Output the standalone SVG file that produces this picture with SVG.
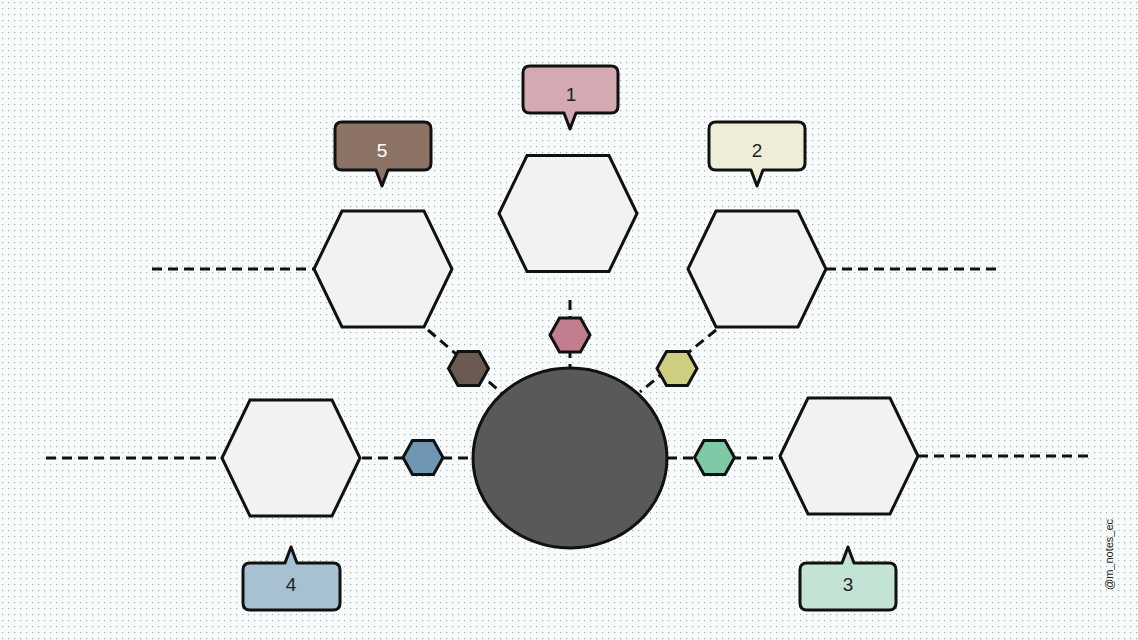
<svg xmlns="http://www.w3.org/2000/svg" width="1138" height="640" viewBox="0 0 1138 640">
<defs>
<pattern id="dots" width="6" height="6" patternUnits="userSpaceOnUse">
<rect width="6" height="6" fill="#f8fbfb"/>
<rect x="2" y="2" width="1.2" height="1.2" fill="#a9b0b0"/>
</pattern>
<path id="bighex" d="M-69,0 L-41,-58 L41,-58 L69,0 L41,58 L-41,58 Z"/>
<path id="smallhex" d="M-20,0 L-10.5,-17 L10.5,-17 L20,0 L10.5,17 L-10.5,17 Z"/>
</defs>
<style>
.conn{stroke:#111;stroke-width:3;stroke-dasharray:10 6;fill:none}
.big{fill:#f2f2f2;stroke:#111;stroke-width:3;stroke-linejoin:miter}
.small{stroke:#111;stroke-width:3}
.call{stroke:#111;stroke-width:3;stroke-linejoin:round}
.lbl{font-family:"Liberation Sans",Arial,sans-serif;font-size:19px;text-anchor:middle;fill:#222}
</style>
<rect width="1138" height="640" fill="url(#dots)"/>

<g id="connectors">
<line class="conn" x1="152" y1="269" x2="314" y2="269"/>
<line class="conn" x1="826" y1="269" x2="996" y2="269"/>
<line class="conn" x1="46" y1="458" x2="222" y2="458"/>
<line class="conn" x1="918" y1="456" x2="1092" y2="456"/>
<line class="conn" x1="362" y1="458" x2="474" y2="458"/>
<line class="conn" x1="667" y1="458" x2="780" y2="458"/>
<line class="conn" x1="570" y1="300" x2="570" y2="368" stroke-dasharray="10 8"/>
<line class="conn" x1="428" y1="330" x2="503" y2="394"/>
<line class="conn" x1="716" y1="330" x2="640" y2="392"/>
</g>

<g id="hub">
<ellipse cx="570" cy="458" rx="97" ry="90" fill="#595959" stroke="#111" stroke-width="3"/>
</g>

<g id="node1">
<use href="#bighex" class="big" x="568" y="213.5"/>
<path class="call" fill="#d4a9b2" d="M530,66 H611 Q618,66 618,73 V106 Q618,113 611,113 H576 L570,129 L564,113 H530 Q523,113 523,106 V73 Q523,66 530,66 Z"/>
<text class="lbl" x="571" y="101">1</text>
</g>

<g id="node2">
<use href="#bighex" class="big" x="757" y="269"/>
<path class="call" fill="#eeeed8" d="M716,122 H798 Q805,122 805,129 V163 Q805,170 798,170 H763 L757,186 L751,170 H716 Q709,170 709,163 V129 Q709,122 716,122 Z"/>
<text class="lbl" x="757" y="157">2</text>
</g>

<g id="node3">
<use href="#bighex" class="big" x="849" y="456"/>
<path class="call" fill="#c3e4d4" d="M807,563 H842 L848,547 L854,563 H889 Q896,563 896,570 V603 Q896,610 889,610 H807 Q800,610 800,603 V570 Q800,563 807,563 Z"/>
<text class="lbl" x="848" y="591">3</text>
</g>

<g id="node4">
<use href="#bighex" class="big" x="291" y="458"/>
<path class="call" fill="#a7c1d2" d="M250,563 H285 L291,547 L297,563 H333 Q340,563 340,570 V603 Q340,610 333,610 H250 Q243,610 243,603 V570 Q243,563 250,563 Z"/>
<text class="lbl" x="291" y="591">4</text>
</g>

<g id="node5">
<use href="#bighex" class="big" x="383" y="269"/>
<path class="call" fill="#8c7366" d="M342,122 H424 Q431,122 431,129 V163 Q431,170 424,170 H388 L382,186 L376,170 H342 Q335,170 335,163 V129 Q335,122 342,122 Z"/>
<text class="lbl" x="382" y="157" fill="#ffffff" style="fill:#ffffff">5</text>
</g>

<g id="marker1"><use href="#smallhex" class="small" fill="#c27e8e" x="570" y="335"/></g>
<g id="marker2"><use href="#smallhex" class="small" fill="#cfcd80" x="677" y="368.5"/></g>
<g id="marker3"><use href="#smallhex" class="small" fill="#7fc8a5" x="714.5" y="457.5"/></g>
<g id="marker4"><use href="#smallhex" class="small" fill="#6f97b3" x="423" y="457.5"/></g>
<g id="marker5"><use href="#smallhex" class="small" fill="#6b5a52" x="468.5" y="368.5"/></g>

<text x="1113" y="590" transform="rotate(-90 1113 590)" font-family="Liberation Sans, Arial, sans-serif" font-size="11" fill="#222">@m_notes_ec</text>
</svg>
